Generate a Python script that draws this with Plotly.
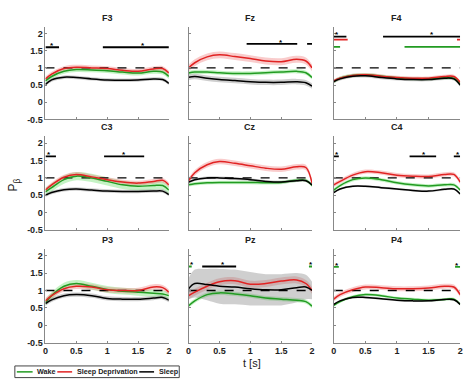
import plotly.graph_objects as go

# ---------------- data ----------------
T = [0, 0.1, 0.3, 0.5, 0.75, 1.0, 1.25, 1.5, 1.75, 1.9, 2.0]
PANELS = ["F3", "Fz", "F4", "C3", "Cz", "C4", "P3", "Pz", "P4"]
X_TICKS = [0, 0.5, 1, 1.5, 2]
Y_TICKS = [-0.5, 0, 0.5, 1, 1.5, 2]
BASELINE = 1.0
LEGEND_LABELS = ["Wake", "Sleep Deprivation", "Sleep"]
X_LABEL = "t [s]"
Y_LABEL = "P<sub>β</sub>"

WAKE = {
    "F3": [0.62, 0.75, 0.90, 0.95, 0.94, 0.92, 0.88, 0.85, 0.90, 0.88, 0.75],
    "Fz": [0.85, 0.88, 0.88, 0.86, 0.84, 0.84, 0.86, 0.88, 0.90, 0.86, 0.72],
    "F4": [0.60, 0.70, 0.78, 0.80, 0.76, 0.71, 0.68, 0.68, 0.71, 0.70, 0.53],
    "C3": [0.60, 0.72, 0.95, 1.05, 1.00, 0.90, 0.80, 0.76, 0.78, 0.78, 0.65],
    "Cz": [0.80, 0.83, 0.86, 0.87, 0.87, 0.87, 0.86, 0.87, 0.93, 0.93, 0.78],
    "C4": [0.65, 0.78, 0.95, 1.00, 0.95, 0.86, 0.80, 0.77, 0.80, 0.80, 0.65],
    "P3": [0.65, 0.85, 1.12, 1.20, 1.12, 1.03, 0.98, 0.95, 0.92, 0.90, 0.85],
    "Pz": [0.56, 0.70, 0.88, 0.93, 0.90, 0.85, 0.78, 0.75, 0.72, 0.68, 0.55],
    "P4": [0.57, 0.68, 0.82, 0.88, 0.85, 0.78, 0.75, 0.72, 0.74, 0.75, 0.60],
}
SLEEP_DEP = {
    "F3": [0.68, 0.82, 0.98, 1.02, 1.00, 0.98, 0.93, 0.90, 0.97, 0.98, 0.85],
    "Fz": [1.00, 1.15, 1.32, 1.38, 1.33, 1.27, 1.20, 1.18, 1.25, 1.20, 1.00],
    "F4": [0.62, 0.70, 0.78, 0.80, 0.76, 0.72, 0.70, 0.70, 0.75, 0.75, 0.58],
    "C3": [0.65, 0.80, 1.02, 1.10, 1.03, 0.95, 0.88, 0.85, 0.90, 0.93, 0.80],
    "Cz": [0.92, 1.15, 1.38, 1.47, 1.42, 1.35, 1.28, 1.25, 1.32, 1.30, 0.85],
    "C4": [0.80, 0.90, 1.08, 1.18, 1.15, 1.08, 1.05, 1.04, 1.10, 1.10, 0.88],
    "P3": [0.70, 0.85, 1.05, 1.12, 1.10, 1.02, 1.00, 1.00, 1.10, 1.08, 0.95],
    "Pz": [0.85, 0.95, 1.12, 1.25, 1.28, 1.18, 1.20, 1.27, 1.30, 1.20, 1.00],
    "P4": [0.75, 0.88, 1.02, 1.10, 1.08, 1.05, 1.05, 1.07, 1.12, 1.10, 0.88],
}
SLEEP = {
    "F3": [0.52, 0.65, 0.73, 0.72, 0.68, 0.65, 0.64, 0.65, 0.68, 0.66, 0.55],
    "Fz": [0.73, 0.75, 0.70, 0.66, 0.63, 0.60, 0.58, 0.58, 0.60, 0.57, 0.47],
    "F4": [0.60, 0.68, 0.76, 0.77, 0.72, 0.68, 0.66, 0.66, 0.70, 0.68, 0.50],
    "C3": [0.50, 0.58, 0.66, 0.68, 0.65, 0.62, 0.61, 0.61, 0.62, 0.62, 0.52],
    "Cz": [0.88, 0.95, 1.00, 1.00, 0.98, 0.95, 0.90, 0.88, 0.92, 0.92, 0.80],
    "C4": [0.58, 0.68, 0.76, 0.76, 0.72, 0.68, 0.64, 0.62, 0.67, 0.68, 0.54],
    "P3": [0.62, 0.73, 0.85, 0.88, 0.85, 0.77, 0.75, 0.75, 0.78, 0.80, 0.72],
    "Pz": [1.05, 1.20, 1.17, 1.12, 1.10, 1.05, 1.02, 1.02, 1.08, 1.10, 1.00],
    "P4": [0.60, 0.70, 0.80, 0.80, 0.76, 0.72, 0.70, 0.70, 0.74, 0.73, 0.60],
}
# half-width of the shaded error bands (scalar or per time point)
WAKE_ERR = {"F3": 0.07, "Fz": 0.06, "F4": 0.05, "C3": 0.12, "Cz": 0.05,
            "C4": 0.05, "P3": 0.10, "Pz": 0.06, "P4": 0.04}
SLEEP_DEP_ERR = {"F3": 0.07, "Fz": 0.10, "F4": 0.05, "C3": 0.07, "Cz": 0.08,
                 "C4": 0.06, "P3": 0.08, "Pz": 0.10, "P4": 0.07}
SLEEP_ERR = {"F3": 0.05, "Fz": 0.08, "F4": 0.05, "C3": 0.05, "Cz": 0.04,
             "C4": 0.03, "P3": 0.06,
             "Pz": [0.30, 0.40, 0.45, 0.50, 0.50, 0.48, 0.45, 0.45, 0.42, 0.35, 0.25],
             "P4": 0.03}
# significance bars: (start, end, level, group, star position or None)
SIG = {
    "F3": [(0, 0.22, 1.6, "k", 0.1), (0.93, 2.0, 1.6, "k", 1.58)],
    "Fz": [(0.94, 1.76, 1.7, "k", 1.49), (1.92, 2.0, 1.7, "k", None)],
    "F4": [(0, 0.2, 1.91, "k", 0.05), (0.78, 2.0, 1.91, "k", 1.55),
           (0, 0.22, 1.82, "r", None), (1.95, 2.0, 1.82, "r", None),
           (0, 0.1, 1.61, "g", None), (1.12, 2.0, 1.61, "g", None)],
    "C3": [(0, 0.17, 1.62, "k", 0.05), (0.95, 1.6, 1.62, "k", 1.27)],
    "Cz": [],
    "C4": [(0, 0.08, 1.62, "k", 0.05), (1.2, 1.62, 1.62, "k", 1.43),
           (1.9, 2.0, 1.62, "k", 1.96)],
    "P3": [],
    "Pz": [(0, 0.05, 1.69, "g", 0.06), (0.22, 0.77, 1.69, "k", 0.55),
           (1.95, 2.0, 1.69, "g", 1.98)],
    "P4": [(0, 0.08, 1.68, "g", 0.05), (1.92, 2.0, 1.68, "g", 1.95)],
}

# ---------------- styling ----------------
W, H = 474, 390
COL_PX = [(43, 168), (188, 313), (335, 463)]
ROW_PX = [(27, 121), (138, 233), (252, 347)]
LINE_COL = {"g": "rgb(34,155,34)", "r": "rgb(225,35,35)", "k": "rgb(0,0,0)"}
BAND_COL = {"g": "rgba(110,225,110,0.40)", "r": "rgba(240,120,120,0.38)",
            "k": "rgba(130,130,130,0.38)"}
FONT = "Liberation Sans, Arial, sans-serif"
TICKFONT = dict(family=FONT, size=9, color="#222", weight="bold")

fig = go.Figure()
layout = dict(width=W, height=H, margin=dict(l=0, r=0, t=0, b=0),
              plot_bgcolor="white", paper_bgcolor="white", showlegend=False)
annotations = []
shapes = []

series = [("g", WAKE, WAKE_ERR), ("r", SLEEP_DEP, SLEEP_DEP_ERR), ("k", SLEEP, SLEEP_ERR)]

for i, name in enumerate(PANELS):
    r, c = divmod(i, 3)
    n = i + 1
    xa = "xaxis" if n == 1 else f"xaxis{n}"
    ya = "yaxis" if n == 1 else f"yaxis{n}"
    xref = "x" if n == 1 else f"x{n}"
    yref = "y" if n == 1 else f"y{n}"
    x0, x1 = COL_PX[c]
    y0, y1 = ROW_PX[r]
    layout[xa] = dict(domain=[x0 / W, x1 / W], anchor=yref, range=[0, 2],
                      tickvals=X_TICKS, ticktext=[f"{v:g}" for v in X_TICKS],
                      showticklabels=(r == 2), showgrid=False, zeroline=False,
                      showline=True, linecolor="#888", linewidth=1,
                      ticks="inside", ticklen=2, tickcolor="#888",
                      tickfont=TICKFONT)
    layout[ya] = dict(domain=[1 - y1 / H, 1 - y0 / H], anchor=xref, range=[-0.5, 2.2],
                      tickvals=Y_TICKS, ticktext=[f"{v:g}" for v in Y_TICKS],
                      showticklabels=(c == 0), showgrid=False, zeroline=False,
                      showline=True, linecolor="#888", linewidth=1,
                      ticks="inside", ticklen=2, tickcolor="#888",
                      tickfont=TICKFONT)
    # error bands
    for key, data, err in series:
        m = data[name]
        e = err[name]
        ev = e if isinstance(e, list) else [e] * len(m)
        up = [a + b for a, b in zip(m, ev)]
        lo = [a - b for a, b in zip(m, ev)]
        fig.add_trace(go.Scatter(x=T, y=up, mode="lines", line=dict(width=0, shape="spline"),
                                 xaxis=xref, yaxis=yref, hoverinfo="skip"))
        fig.add_trace(go.Scatter(x=T, y=lo, mode="lines", line=dict(width=0, shape="spline"),
                                 fill="tonexty", fillcolor=BAND_COL[key],
                                 xaxis=xref, yaxis=yref, hoverinfo="skip"))
    # baseline
    fig.add_trace(go.Scatter(x=[T[0], T[-1]], y=[BASELINE, BASELINE], mode="lines",
                             line=dict(color="black", width=1.4, dash="dash"),
                             xaxis=xref, yaxis=yref, hoverinfo="skip"))
    # mean lines
    for key, data, err in series:
        fig.add_trace(go.Scatter(x=T, y=data[name], mode="lines",
                                 line=dict(color=LINE_COL[key], width=1.5, shape="spline"),
                                 xaxis=xref, yaxis=yref))
    # significance bars
    for (s0, s1, lev, key, star) in SIG[name]:
        fig.add_trace(go.Scatter(x=[s0, s1], y=[lev, lev], mode="lines",
                                 line=dict(color=LINE_COL[key], width=1.8),
                                 xaxis=xref, yaxis=yref, hoverinfo="skip"))
        if star is not None:
            annotations.append(dict(x=star, y=lev + 0.05, xref=xref, yref=yref,
                                    text="<b>*</b>", showarrow=False, yanchor="middle",
                                    xanchor="center",
                                    font=dict(family=FONT, size=8, color="black")))
    # panel title
    annotations.append(dict(x=(x0 + x1) / 2 / W, y=1 - (y0 - 9) / H, xref="paper", yref="paper",
                            text=f"<b>{name}</b>", showarrow=False,
                            xanchor="center", yanchor="middle",
                            font=dict(family=FONT, size=9, color="#222")))

# axis labels
annotations.append(dict(x=252 / W, y=1 - 368 / H, xref="paper", yref="paper", text=X_LABEL,
                        showarrow=False, xanchor="center", yanchor="middle",
                        font=dict(family=FONT, size=11, color="#222")))
annotations.append(dict(x=11 / W, y=1 - 187 / H, xref="paper", yref="paper", text=Y_LABEL,
                        textangle=-90, showarrow=False, xanchor="center", yanchor="middle",
                        font=dict(family=FONT, size=12, color="#222")))

# manual legend
LEG_Y = 376.7
shapes.append(dict(type="rect", xref="paper", yref="paper", x0=12 / W, x1=178.5 / W,
                   y0=1 - 382.5 / H, y1=1 - 370.7 / H, line=dict(color="#444", width=1),
                   fillcolor="white"))
leg_items = [("g", 14, 30, 32), ("r", 55, 70, 73), ("k", 138, 153, 155.5)]
for (key, lx0, lx1, tx), label in zip(leg_items, LEGEND_LABELS):
    shapes.append(dict(type="line", xref="paper", yref="paper", x0=lx0 / W, x1=lx1 / W,
                       y0=1 - LEG_Y / H, y1=1 - LEG_Y / H,
                       line=dict(color=LINE_COL[key], width=1.5)))
    annotations.append(dict(x=tx / W, y=1 - LEG_Y / H, xref="paper", yref="paper",
                            text=label, showarrow=False, xanchor="left", yanchor="middle",
                            font=dict(family=FONT, size=7.2, color="#222", weight="bold")))

layout["annotations"] = annotations
layout["shapes"] = shapes
fig.update_layout(**layout)
fig.write_html("out.html", config={"displayModeBar": False},
               post_script="document.body.style.margin='0px';document.body.style.padding='0px';")
